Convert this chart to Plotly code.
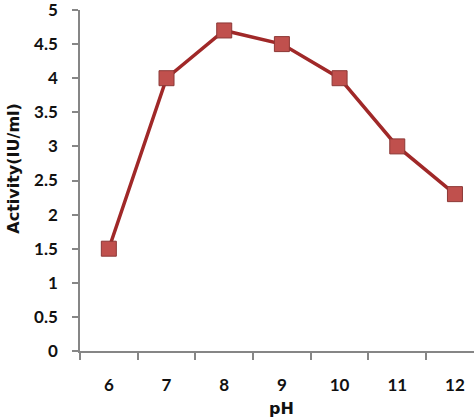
import plotly.graph_objects as go

ph = [6, 7, 8, 9, 10, 11, 12]
activity = [1.5, 4.0, 4.7, 4.5, 4.0, 3.0, 2.3]
y_ticks = [0, 0.5, 1, 1.5, 2, 2.5, 3, 3.5, 4, 4.5, 5]
y_tick_text = ["0", "0.5", "1", "1.5", "2", "2.5", "3", "3.5", "4", "4.5", "5"]

FONT = "Lato"
TITLE_FONT = "DejaVu Sans"
FS = 17
fig = go.Figure()
fig.add_trace(go.Scatter(
    x=ph, y=activity, mode="lines+markers",
    line=dict(color="#A02828", width=3.5),
    marker=dict(symbol="square", size=15, color="#C0504D",
                line=dict(color="#8C3836", width=1)),
    showlegend=False,
))

fig.update_layout(
    width=474, height=420,
    margin=dict(l=80, r=0, t=10, b=69),
    plot_bgcolor="white", paper_bgcolor="white",
    font=dict(family=FONT, size=FS, color="#111111"),
    xaxis=dict(
        range=[5.5, 12.33], tickvals=ph, ticktext=[str(p) for p in ph],
        ticks="", showgrid=False, zeroline=False, automargin=False,
        showline=True, linecolor="#868686", linewidth=1.5,
        tickfont=dict(family=FONT, size=FS, weight="bold"),
        ticklabelstandoff=18, ticklabeloverflow="allow",
        minor=dict(tickvals=[5.5, 6.5, 7.5, 8.5, 9.5, 10.5, 11.5, 12.5],
                   ticks="outside", ticklen=7, tickcolor="#868686",
                   tickwidth=1.5, showgrid=False),
    ),
    yaxis=dict(
        range=[0, 5], tickvals=y_ticks, ticktext=y_tick_text,
        ticks="outside", ticklen=6, tickcolor="#868686", tickwidth=1.5,
        showgrid=False, zeroline=False, automargin=False,
        showline=True, linecolor="#868686", linewidth=1.5,
        tickfont=dict(family=FONT, size=FS, weight="bold"),
        ticklabelstandoff=11, ticklabeloverflow="allow",
    ),
    annotations=[
        dict(text="Activity(IU/ml)", x=-0.168, y=0.537, xref="paper", yref="paper",
             xanchor="center", yanchor="middle", textangle=-90, showarrow=False,
             font=dict(family=TITLE_FONT, size=16, weight="bold", color="#111111")),
        dict(text="pH", x=9, y=-0.17, xref="x", yref="paper",
             xanchor="center", yanchor="middle", showarrow=False,
             font=dict(family=TITLE_FONT, size=16, weight="bold", color="#111111")),
    ],
)

fig.write_html("out.html", config={"displayModeBar": False},
               post_script="document.body.style.margin='0';")
